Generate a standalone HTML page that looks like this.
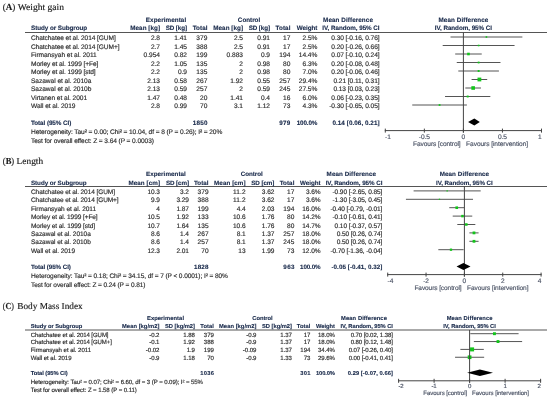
<!DOCTYPE html>
<html><head><meta charset="utf-8"><title>Forest plots</title>
<style>
html,body{margin:0;padding:0;background:#fff;}
svg{display:block;font-family:"Liberation Sans",sans-serif;}
text{white-space:pre;}
</style></head>
<body>
<svg width="550" height="400" viewBox="0 0 550 400" shape-rendering="auto">
<rect width="550" height="400" fill="#fff"/>
<line x1="25.00" y1="32.50" x2="547.00" y2="32.50" stroke="#555" stroke-width="1"/>
<line x1="450.50" y1="37.00" x2="522.36" y2="37.00" stroke="#555" stroke-width="1"/>
<rect x="485.63" y="36.20" width="1.60" height="1.60" fill="#12c51a"/>
<line x1="442.69" y1="45.50" x2="514.55" y2="45.50" stroke="#555" stroke-width="1"/>
<rect x="477.82" y="44.70" width="1.60" height="1.60" fill="#12c51a"/>
<line x1="455.19" y1="54.00" x2="481.74" y2="54.00" stroke="#555" stroke-width="1"/>
<rect x="467.17" y="52.70" width="2.60" height="2.60" fill="#12c51a"/>
<line x1="456.75" y1="62.50" x2="500.49" y2="62.50" stroke="#555" stroke-width="1"/>
<rect x="477.72" y="61.60" width="1.80" height="1.80" fill="#12c51a"/>
<line x1="458.31" y1="71.00" x2="498.93" y2="71.00" stroke="#555" stroke-width="1"/>
<rect x="477.67" y="70.05" width="1.90" height="1.90" fill="#12c51a"/>
<line x1="471.59" y1="79.50" x2="487.21" y2="79.50" stroke="#555" stroke-width="1"/>
<rect x="477.50" y="77.60" width="3.80" height="3.80" fill="#12c51a"/>
<line x1="465.34" y1="88.00" x2="480.96" y2="88.00" stroke="#555" stroke-width="1"/>
<rect x="471.35" y="86.20" width="3.60" height="3.60" fill="#12c51a"/>
<line x1="445.04" y1="96.50" x2="490.33" y2="96.50" stroke="#555" stroke-width="1"/>
<rect x="466.74" y="95.55" width="1.90" height="1.90" fill="#12c51a"/>
<line x1="412.24" y1="105.00" x2="466.90" y2="105.00" stroke="#555" stroke-width="1"/>
<rect x="438.67" y="104.10" width="1.80" height="1.80" fill="#12c51a"/>
<line x1="463.40" y1="32.50" x2="463.40" y2="132.60" stroke="#444" stroke-width="1"/>
<polygon points="468.09,122.10 474.33,118.60 479.80,122.10 474.33,125.60" fill="#000"/>
<line x1="384.80" y1="130.60" x2="542.00" y2="130.60" stroke="#444" stroke-width="1"/>
<line x1="385.30" y1="128.60" x2="385.30" y2="132.60" stroke="#444" stroke-width="1"/>
<line x1="424.35" y1="128.60" x2="424.35" y2="132.60" stroke="#444" stroke-width="1"/>
<line x1="463.40" y1="128.60" x2="463.40" y2="132.60" stroke="#444" stroke-width="1"/>
<line x1="502.45" y1="128.60" x2="502.45" y2="132.60" stroke="#444" stroke-width="1"/>
<line x1="541.50" y1="128.60" x2="541.50" y2="132.60" stroke="#444" stroke-width="1"/>
<line x1="25.00" y1="186.50" x2="547.00" y2="186.50" stroke="#555" stroke-width="1"/>
<line x1="413.60" y1="190.90" x2="480.69" y2="190.90" stroke="#555" stroke-width="1"/>
<rect x="446.52" y="190.28" width="1.25" height="1.25" fill="#12c51a"/>
<line x1="405.93" y1="199.30" x2="473.03" y2="199.30" stroke="#555" stroke-width="1"/>
<rect x="438.86" y="198.68" width="1.25" height="1.25" fill="#12c51a"/>
<line x1="449.26" y1="207.70" x2="464.21" y2="207.70" stroke="#555" stroke-width="1"/>
<rect x="455.42" y="206.39" width="2.63" height="2.63" fill="#12c51a"/>
<line x1="452.71" y1="216.10" x2="472.26" y2="216.10" stroke="#555" stroke-width="1"/>
<rect x="461.24" y="214.86" width="2.48" height="2.48" fill="#12c51a"/>
<line x1="457.31" y1="224.50" x2="475.33" y2="224.50" stroke="#555" stroke-width="1"/>
<rect x="465.06" y="223.24" width="2.52" height="2.52" fill="#12c51a"/>
<line x1="469.38" y1="232.90" x2="478.59" y2="232.90" stroke="#555" stroke-width="1"/>
<rect x="472.59" y="231.51" width="2.79" height="2.79" fill="#12c51a"/>
<line x1="469.38" y1="241.30" x2="478.59" y2="241.30" stroke="#555" stroke-width="1"/>
<rect x="472.59" y="239.91" width="2.79" height="2.79" fill="#12c51a"/>
<line x1="438.33" y1="249.70" x2="463.63" y2="249.70" stroke="#555" stroke-width="1"/>
<rect x="449.84" y="248.56" width="2.28" height="2.28" fill="#12c51a"/>
<line x1="464.40" y1="186.50" x2="464.40" y2="276.60" stroke="#444" stroke-width="1"/>
<polygon points="456.54,266.50 463.44,263.00 470.53,266.50 463.44,270.00" fill="#000"/>
<line x1="387.22" y1="274.60" x2="541.58" y2="274.60" stroke="#444" stroke-width="1"/>
<line x1="387.72" y1="272.60" x2="387.72" y2="276.60" stroke="#444" stroke-width="1"/>
<line x1="426.06" y1="272.60" x2="426.06" y2="276.60" stroke="#444" stroke-width="1"/>
<line x1="464.40" y1="272.60" x2="464.40" y2="276.60" stroke="#444" stroke-width="1"/>
<line x1="502.74" y1="272.60" x2="502.74" y2="276.60" stroke="#444" stroke-width="1"/>
<line x1="541.08" y1="272.60" x2="541.08" y2="276.60" stroke="#444" stroke-width="1"/>
<line x1="25.00" y1="330.00" x2="547.00" y2="330.00" stroke="#555" stroke-width="1"/>
<line x1="470.31" y1="333.70" x2="518.59" y2="333.70" stroke="#555" stroke-width="1"/>
<rect x="493.00" y="332.25" width="2.90" height="2.90" fill="#12c51a"/>
<line x1="473.86" y1="341.55" x2="522.14" y2="341.55" stroke="#555" stroke-width="1"/>
<rect x="496.55" y="340.10" width="2.90" height="2.90" fill="#12c51a"/>
<line x1="460.37" y1="349.40" x2="483.80" y2="349.40" stroke="#555" stroke-width="1"/>
<rect x="470.08" y="347.40" width="4.01" height="4.01" fill="#12c51a"/>
<line x1="455.05" y1="357.25" x2="484.16" y2="357.25" stroke="#555" stroke-width="1"/>
<rect x="467.74" y="355.39" width="3.72" height="3.72" fill="#12c51a"/>
<line x1="469.60" y1="330.00" x2="469.60" y2="382.80" stroke="#444" stroke-width="1"/>
<polygon points="467.12,372.80 479.90,369.50 493.03,372.80 479.90,376.10" fill="#000"/>
<line x1="398.10" y1="380.80" x2="541.10" y2="380.80" stroke="#444" stroke-width="1"/>
<line x1="398.60" y1="378.80" x2="398.60" y2="382.80" stroke="#444" stroke-width="1"/>
<line x1="434.10" y1="378.80" x2="434.10" y2="382.80" stroke="#444" stroke-width="1"/>
<line x1="469.60" y1="378.80" x2="469.60" y2="382.80" stroke="#444" stroke-width="1"/>
<line x1="505.10" y1="378.80" x2="505.10" y2="382.80" stroke="#444" stroke-width="1"/>
<line x1="540.60" y1="378.80" x2="540.60" y2="382.80" stroke="#444" stroke-width="1"/>
<g transform="matrix(1 0 0.001 1 0 0)">
<text x="2.79" y="9.9" font-size="9.2" font-family="'Liberation Serif',serif" fill="#1a1a1a" stroke="#1a1a1a" stroke-width="0.15" lengthAdjust="spacingAndGlyphs" textLength="12.6">(<tspan font-weight="bold">A</tspan>)</text>
<text x="17.69" y="9.9" font-size="9.2" font-family="'Liberation Serif',serif" fill="#1a1a1a" stroke="#1a1a1a" stroke-width="0.15" lengthAdjust="spacingAndGlyphs" textLength="46.3">Weight gain</text>
<text x="165.98" y="21.70" font-size="6.31" fill="#18294a" text-anchor="middle" font-weight="bold" stroke="#18294a" stroke-width="0.12" textLength="40.28">Experimental</text>
<text x="248.98" y="21.70" font-size="6.31" fill="#18294a" text-anchor="middle" font-weight="bold" stroke="#18294a" stroke-width="0.12" textLength="22.26">Control</text>
<text x="347.98" y="21.70" font-size="6.31" fill="#18294a" text-anchor="middle" font-weight="bold" stroke="#18294a" stroke-width="0.12" textLength="49.82">Mean Difference</text>
<text x="463.38" y="21.70" font-size="6.31" fill="#18294a" text-anchor="middle" font-weight="bold" stroke="#18294a" stroke-width="0.12" textLength="49.82">Mean Difference</text>
<text x="30.97" y="30.30" font-size="6.31" fill="#18294a" font-weight="bold" stroke="#18294a" stroke-width="0.12" textLength="56.18">Study or Subgroup</text>
<text x="159.97" y="30.30" font-size="6.31" fill="#18294a" text-anchor="end" font-weight="bold" stroke="#18294a" stroke-width="0.12" textLength="29.68">Mean [kg]</text>
<text x="186.97" y="30.30" font-size="6.31" fill="#18294a" text-anchor="end" font-weight="bold" stroke="#18294a" stroke-width="0.12" textLength="21.20">SD [kg]</text>
<text x="207.47" y="30.30" font-size="6.31" fill="#18294a" text-anchor="end" font-weight="bold" stroke="#18294a" stroke-width="0.12" textLength="14.84">Total</text>
<text x="242.97" y="30.30" font-size="6.31" fill="#18294a" text-anchor="end" font-weight="bold" stroke="#18294a" stroke-width="0.12" textLength="29.68">Mean [kg]</text>
<text x="269.97" y="30.30" font-size="6.31" fill="#18294a" text-anchor="end" font-weight="bold" stroke="#18294a" stroke-width="0.12" textLength="21.20">SD [kg]</text>
<text x="290.37" y="30.30" font-size="6.31" fill="#18294a" text-anchor="end" font-weight="bold" stroke="#18294a" stroke-width="0.12" textLength="14.84">Total</text>
<text x="317.37" y="30.30" font-size="6.31" fill="#18294a" text-anchor="end" font-weight="bold" stroke="#18294a" stroke-width="0.12" textLength="20.67">Weight</text>
<text x="379.57" y="30.30" font-size="6.31" fill="#18294a" text-anchor="end" font-weight="bold" stroke="#18294a" stroke-width="0.12" textLength="57.24">IV, Random, 95% CI</text>
<text x="463.37" y="30.30" font-size="6.31" fill="#18294a" text-anchor="middle" font-weight="bold" stroke="#18294a" stroke-width="0.12" textLength="57.24">IV, Random, 95% CI</text>
<text x="30.96" y="40.30" font-size="6.62" fill="#2a2a2a" stroke="#2a2a2a" stroke-width="0.15" textLength="84.80">Chatchatee et al. 2014 [GUM]</text>
<text x="159.96" y="40.30" font-size="6.62" fill="#2a2a2a" text-anchor="end" stroke="#2a2a2a" stroke-width="0.15" textLength="9.01">2.8</text>
<text x="186.96" y="40.30" font-size="6.62" fill="#2a2a2a" text-anchor="end" stroke="#2a2a2a" stroke-width="0.15" textLength="12.72">1.41</text>
<text x="207.46" y="40.30" font-size="6.62" fill="#2a2a2a" text-anchor="end" stroke="#2a2a2a" stroke-width="0.15" textLength="11.13">379</text>
<text x="242.96" y="40.30" font-size="6.62" fill="#2a2a2a" text-anchor="end" stroke="#2a2a2a" stroke-width="0.15" textLength="9.01">2.5</text>
<text x="269.96" y="40.30" font-size="6.62" fill="#2a2a2a" text-anchor="end" stroke="#2a2a2a" stroke-width="0.15" textLength="12.72">0.91</text>
<text x="290.36" y="40.30" font-size="6.62" fill="#2a2a2a" text-anchor="end" stroke="#2a2a2a" stroke-width="0.15" textLength="7.42">17</text>
<text x="317.36" y="40.30" font-size="6.62" fill="#2a2a2a" text-anchor="end" stroke="#2a2a2a" stroke-width="0.15" textLength="14.84">2.5%</text>
<text x="379.56" y="40.30" font-size="6.62" fill="#2a2a2a" text-anchor="end" stroke="#2a2a2a" stroke-width="0.15" textLength="48.23">0.30 [-0.16, 0.76]</text>
<text x="30.95" y="48.80" font-size="6.62" fill="#2a2a2a" stroke="#2a2a2a" stroke-width="0.15" textLength="88.51">Chatchatee et al. 2014 [GUM+]</text>
<text x="159.95" y="48.80" font-size="6.62" fill="#2a2a2a" text-anchor="end" stroke="#2a2a2a" stroke-width="0.15" textLength="9.01">2.7</text>
<text x="186.95" y="48.80" font-size="6.62" fill="#2a2a2a" text-anchor="end" stroke="#2a2a2a" stroke-width="0.15" textLength="12.72">1.45</text>
<text x="207.45" y="48.80" font-size="6.62" fill="#2a2a2a" text-anchor="end" stroke="#2a2a2a" stroke-width="0.15" textLength="11.13">388</text>
<text x="242.95" y="48.80" font-size="6.62" fill="#2a2a2a" text-anchor="end" stroke="#2a2a2a" stroke-width="0.15" textLength="9.01">2.5</text>
<text x="269.95" y="48.80" font-size="6.62" fill="#2a2a2a" text-anchor="end" stroke="#2a2a2a" stroke-width="0.15" textLength="12.72">0.91</text>
<text x="290.35" y="48.80" font-size="6.62" fill="#2a2a2a" text-anchor="end" stroke="#2a2a2a" stroke-width="0.15" textLength="7.42">17</text>
<text x="317.35" y="48.80" font-size="6.62" fill="#2a2a2a" text-anchor="end" stroke="#2a2a2a" stroke-width="0.15" textLength="14.84">2.5%</text>
<text x="379.55" y="48.80" font-size="6.62" fill="#2a2a2a" text-anchor="end" stroke="#2a2a2a" stroke-width="0.15" textLength="48.23">0.20 [-0.26, 0.66]</text>
<text x="30.94" y="57.30" font-size="6.62" fill="#2a2a2a" stroke="#2a2a2a" stroke-width="0.15" textLength="65.72">Firmansyah et al. 2011</text>
<text x="159.94" y="57.30" font-size="6.62" fill="#2a2a2a" text-anchor="end" stroke="#2a2a2a" stroke-width="0.15" textLength="16.43">0.954</text>
<text x="186.94" y="57.30" font-size="6.62" fill="#2a2a2a" text-anchor="end" stroke="#2a2a2a" stroke-width="0.15" textLength="12.72">0.82</text>
<text x="207.44" y="57.30" font-size="6.62" fill="#2a2a2a" text-anchor="end" stroke="#2a2a2a" stroke-width="0.15" textLength="11.13">199</text>
<text x="242.94" y="57.30" font-size="6.62" fill="#2a2a2a" text-anchor="end" stroke="#2a2a2a" stroke-width="0.15" textLength="16.43">0.883</text>
<text x="269.94" y="57.30" font-size="6.62" fill="#2a2a2a" text-anchor="end" stroke="#2a2a2a" stroke-width="0.15" textLength="9.01">0.9</text>
<text x="290.34" y="57.30" font-size="6.62" fill="#2a2a2a" text-anchor="end" stroke="#2a2a2a" stroke-width="0.15" textLength="11.13">194</text>
<text x="317.34" y="57.30" font-size="6.62" fill="#2a2a2a" text-anchor="end" stroke="#2a2a2a" stroke-width="0.15" textLength="18.55">14.4%</text>
<text x="379.54" y="57.30" font-size="6.62" fill="#2a2a2a" text-anchor="end" stroke="#2a2a2a" stroke-width="0.15" textLength="48.23">0.07 [-0.10, 0.24]</text>
<text x="30.93" y="65.80" font-size="6.62" fill="#2a2a2a" stroke="#2a2a2a" stroke-width="0.15" textLength="67.31">Morley et al. 1999 [+Fe]</text>
<text x="159.93" y="65.80" font-size="6.62" fill="#2a2a2a" text-anchor="end" stroke="#2a2a2a" stroke-width="0.15" textLength="9.01">2.2</text>
<text x="186.93" y="65.80" font-size="6.62" fill="#2a2a2a" text-anchor="end" stroke="#2a2a2a" stroke-width="0.15" textLength="12.72">1.05</text>
<text x="207.43" y="65.80" font-size="6.62" fill="#2a2a2a" text-anchor="end" stroke="#2a2a2a" stroke-width="0.15" textLength="11.13">135</text>
<text x="242.93" y="65.80" font-size="6.62" fill="#2a2a2a" text-anchor="end" stroke="#2a2a2a" stroke-width="0.15">2</text>
<text x="269.93" y="65.80" font-size="6.62" fill="#2a2a2a" text-anchor="end" stroke="#2a2a2a" stroke-width="0.15" textLength="12.72">0.98</text>
<text x="290.33" y="65.80" font-size="6.62" fill="#2a2a2a" text-anchor="end" stroke="#2a2a2a" stroke-width="0.15" textLength="7.42">80</text>
<text x="317.33" y="65.80" font-size="6.62" fill="#2a2a2a" text-anchor="end" stroke="#2a2a2a" stroke-width="0.15" textLength="14.84">6.3%</text>
<text x="379.53" y="65.80" font-size="6.62" fill="#2a2a2a" text-anchor="end" stroke="#2a2a2a" stroke-width="0.15" textLength="48.23">0.20 [-0.08, 0.48]</text>
<text x="30.93" y="74.30" font-size="6.62" fill="#2a2a2a" stroke="#2a2a2a" stroke-width="0.15" textLength="64.66">Morley et al. 1999 [std]</text>
<text x="159.93" y="74.30" font-size="6.62" fill="#2a2a2a" text-anchor="end" stroke="#2a2a2a" stroke-width="0.15" textLength="9.01">2.2</text>
<text x="186.93" y="74.30" font-size="6.62" fill="#2a2a2a" text-anchor="end" stroke="#2a2a2a" stroke-width="0.15" textLength="9.01">0.9</text>
<text x="207.43" y="74.30" font-size="6.62" fill="#2a2a2a" text-anchor="end" stroke="#2a2a2a" stroke-width="0.15" textLength="11.13">135</text>
<text x="242.93" y="74.30" font-size="6.62" fill="#2a2a2a" text-anchor="end" stroke="#2a2a2a" stroke-width="0.15">2</text>
<text x="269.93" y="74.30" font-size="6.62" fill="#2a2a2a" text-anchor="end" stroke="#2a2a2a" stroke-width="0.15" textLength="12.72">0.98</text>
<text x="290.33" y="74.30" font-size="6.62" fill="#2a2a2a" text-anchor="end" stroke="#2a2a2a" stroke-width="0.15" textLength="7.42">80</text>
<text x="317.33" y="74.30" font-size="6.62" fill="#2a2a2a" text-anchor="end" stroke="#2a2a2a" stroke-width="0.15" textLength="14.84">7.0%</text>
<text x="379.53" y="74.30" font-size="6.62" fill="#2a2a2a" text-anchor="end" stroke="#2a2a2a" stroke-width="0.15" textLength="48.23">0.20 [-0.06, 0.46]</text>
<text x="30.92" y="82.80" font-size="6.62" fill="#2a2a2a" stroke="#2a2a2a" stroke-width="0.15" textLength="60.42">Sazawal et al. 2010a</text>
<text x="159.92" y="82.80" font-size="6.62" fill="#2a2a2a" text-anchor="end" stroke="#2a2a2a" stroke-width="0.15" textLength="12.72">2.13</text>
<text x="186.92" y="82.80" font-size="6.62" fill="#2a2a2a" text-anchor="end" stroke="#2a2a2a" stroke-width="0.15" textLength="12.72">0.58</text>
<text x="207.42" y="82.80" font-size="6.62" fill="#2a2a2a" text-anchor="end" stroke="#2a2a2a" stroke-width="0.15" textLength="11.13">267</text>
<text x="242.92" y="82.80" font-size="6.62" fill="#2a2a2a" text-anchor="end" stroke="#2a2a2a" stroke-width="0.15" textLength="12.72">1.92</text>
<text x="269.92" y="82.80" font-size="6.62" fill="#2a2a2a" text-anchor="end" stroke="#2a2a2a" stroke-width="0.15" textLength="12.72">0.55</text>
<text x="290.32" y="82.80" font-size="6.62" fill="#2a2a2a" text-anchor="end" stroke="#2a2a2a" stroke-width="0.15" textLength="11.13">257</text>
<text x="317.32" y="82.80" font-size="6.62" fill="#2a2a2a" text-anchor="end" stroke="#2a2a2a" stroke-width="0.15" textLength="18.55">29.4%</text>
<text x="379.52" y="82.80" font-size="6.62" fill="#2a2a2a" text-anchor="end" stroke="#2a2a2a" stroke-width="0.15" textLength="46.11">0.21 [0.11, 0.31]</text>
<text x="30.91" y="91.30" font-size="6.62" fill="#2a2a2a" stroke="#2a2a2a" stroke-width="0.15" textLength="60.42">Sazawal et al. 2010b</text>
<text x="159.91" y="91.30" font-size="6.62" fill="#2a2a2a" text-anchor="end" stroke="#2a2a2a" stroke-width="0.15" textLength="12.72">2.13</text>
<text x="186.91" y="91.30" font-size="6.62" fill="#2a2a2a" text-anchor="end" stroke="#2a2a2a" stroke-width="0.15" textLength="12.72">0.59</text>
<text x="207.41" y="91.30" font-size="6.62" fill="#2a2a2a" text-anchor="end" stroke="#2a2a2a" stroke-width="0.15" textLength="11.13">257</text>
<text x="242.91" y="91.30" font-size="6.62" fill="#2a2a2a" text-anchor="end" stroke="#2a2a2a" stroke-width="0.15">2</text>
<text x="269.91" y="91.30" font-size="6.62" fill="#2a2a2a" text-anchor="end" stroke="#2a2a2a" stroke-width="0.15" textLength="12.72">0.59</text>
<text x="290.31" y="91.30" font-size="6.62" fill="#2a2a2a" text-anchor="end" stroke="#2a2a2a" stroke-width="0.15" textLength="11.13">245</text>
<text x="317.31" y="91.30" font-size="6.62" fill="#2a2a2a" text-anchor="end" stroke="#2a2a2a" stroke-width="0.15" textLength="18.55">27.5%</text>
<text x="379.51" y="91.30" font-size="6.62" fill="#2a2a2a" text-anchor="end" stroke="#2a2a2a" stroke-width="0.15" textLength="46.11">0.13 [0.03, 0.23]</text>
<text x="30.90" y="99.80" font-size="6.62" fill="#2a2a2a" stroke="#2a2a2a" stroke-width="0.15" textLength="56.18">Virtanen et al. 2001</text>
<text x="159.90" y="99.80" font-size="6.62" fill="#2a2a2a" text-anchor="end" stroke="#2a2a2a" stroke-width="0.15" textLength="12.72">1.47</text>
<text x="186.90" y="99.80" font-size="6.62" fill="#2a2a2a" text-anchor="end" stroke="#2a2a2a" stroke-width="0.15" textLength="12.72">0.48</text>
<text x="207.40" y="99.80" font-size="6.62" fill="#2a2a2a" text-anchor="end" stroke="#2a2a2a" stroke-width="0.15" textLength="7.42">20</text>
<text x="242.90" y="99.80" font-size="6.62" fill="#2a2a2a" text-anchor="end" stroke="#2a2a2a" stroke-width="0.15" textLength="12.72">1.41</text>
<text x="269.90" y="99.80" font-size="6.62" fill="#2a2a2a" text-anchor="end" stroke="#2a2a2a" stroke-width="0.15" textLength="9.01">0.4</text>
<text x="290.30" y="99.80" font-size="6.62" fill="#2a2a2a" text-anchor="end" stroke="#2a2a2a" stroke-width="0.15" textLength="7.42">16</text>
<text x="317.30" y="99.80" font-size="6.62" fill="#2a2a2a" text-anchor="end" stroke="#2a2a2a" stroke-width="0.15" textLength="14.84">6.0%</text>
<text x="379.50" y="99.80" font-size="6.62" fill="#2a2a2a" text-anchor="end" stroke="#2a2a2a" stroke-width="0.15" textLength="48.23">0.06 [-0.23, 0.35]</text>
<text x="30.89" y="108.30" font-size="6.62" fill="#2a2a2a" stroke="#2a2a2a" stroke-width="0.15" textLength="44.52">Wall et al. 2019</text>
<text x="159.89" y="108.30" font-size="6.62" fill="#2a2a2a" text-anchor="end" stroke="#2a2a2a" stroke-width="0.15" textLength="9.01">2.8</text>
<text x="186.89" y="108.30" font-size="6.62" fill="#2a2a2a" text-anchor="end" stroke="#2a2a2a" stroke-width="0.15" textLength="12.72">0.99</text>
<text x="207.39" y="108.30" font-size="6.62" fill="#2a2a2a" text-anchor="end" stroke="#2a2a2a" stroke-width="0.15" textLength="7.42">70</text>
<text x="242.89" y="108.30" font-size="6.62" fill="#2a2a2a" text-anchor="end" stroke="#2a2a2a" stroke-width="0.15" textLength="9.01">3.1</text>
<text x="269.89" y="108.30" font-size="6.62" fill="#2a2a2a" text-anchor="end" stroke="#2a2a2a" stroke-width="0.15" textLength="12.72">1.12</text>
<text x="290.29" y="108.30" font-size="6.62" fill="#2a2a2a" text-anchor="end" stroke="#2a2a2a" stroke-width="0.15" textLength="7.42">73</text>
<text x="317.29" y="108.30" font-size="6.62" fill="#2a2a2a" text-anchor="end" stroke="#2a2a2a" stroke-width="0.15" textLength="14.84">4.3%</text>
<text x="379.49" y="108.30" font-size="6.62" fill="#2a2a2a" text-anchor="end" stroke="#2a2a2a" stroke-width="0.15" textLength="50.35">-0.30 [-0.65, 0.05]</text>
<text x="30.88" y="124.80" font-size="6.31" fill="#18294a" font-weight="bold" stroke="#18294a" stroke-width="0.12" textLength="40.28">Total (95% CI)</text>
<text x="207.38" y="124.80" font-size="6.31" fill="#18294a" text-anchor="end" font-weight="bold" stroke="#18294a" stroke-width="0.12" textLength="14.84">1850</text>
<text x="290.28" y="124.80" font-size="6.31" fill="#18294a" text-anchor="end" font-weight="bold" stroke="#18294a" stroke-width="0.12" textLength="11.13">979</text>
<text x="317.28" y="124.80" font-size="6.31" fill="#18294a" text-anchor="end" font-weight="bold" stroke="#18294a" stroke-width="0.12" textLength="20.67">100.0%</text>
<text x="379.48" y="124.80" font-size="6.31" fill="#18294a" text-anchor="end" font-weight="bold" stroke="#18294a" stroke-width="0.12" textLength="47.17">0.14 [0.06, 0.21]</text>
<text x="30.87" y="133.90" font-size="6.62" fill="#2a2a2a" stroke="#2a2a2a" stroke-width="0.15" textLength="191.33">Heterogeneity: Tau² = 0.00; Chi² = 10.04, df = 8 (P = 0.26); I² = 20%</text>
<text x="30.86" y="142.90" font-size="6.62" fill="#2a2a2a" stroke="#2a2a2a" stroke-width="0.15" textLength="122.96">Test for overall effect: Z = 3.64 (P = 0.0003)</text>
<text x="384.96" y="138.70" font-size="6.62" fill="#4a5264" stroke="#4a5264" stroke-width="0.15" textLength="5.83">-1</text>
<text x="424.21" y="138.70" font-size="6.62" fill="#4a5264" text-anchor="middle" stroke="#4a5264" stroke-width="0.15" textLength="11.13">-0.5</text>
<text x="463.26" y="138.70" font-size="6.62" fill="#4a5264" text-anchor="middle" stroke="#4a5264" stroke-width="0.15">0</text>
<text x="502.31" y="138.70" font-size="6.62" fill="#4a5264" text-anchor="middle" stroke="#4a5264" stroke-width="0.15" textLength="9.01">0.5</text>
<text x="541.56" y="138.70" font-size="6.62" fill="#4a5264" text-anchor="end" stroke="#4a5264" stroke-width="0.15">1</text>
<text x="460.55" y="146.00" font-size="6.62" fill="#4a5264" text-anchor="end" stroke="#4a5264" stroke-width="0.15" textLength="47.70">Favours [control]</text>
<text x="465.95" y="146.00" font-size="6.62" fill="#4a5264" stroke="#4a5264" stroke-width="0.15" textLength="62.01">Favours [intervention]</text>
<text x="2.64" y="163.9" font-size="9.2" font-family="'Liberation Serif',serif" fill="#1a1a1a" stroke="#1a1a1a" stroke-width="0.15" lengthAdjust="spacingAndGlyphs" textLength="11.4">(<tspan font-weight="bold">B</tspan>)</text>
<text x="16.44" y="163.9" font-size="9.2" font-family="'Liberation Serif',serif" fill="#1a1a1a" stroke="#1a1a1a" stroke-width="0.15" lengthAdjust="spacingAndGlyphs" textLength="26.5">Length</text>
<text x="165.72" y="176.40" font-size="6.25" fill="#18294a" text-anchor="middle" font-weight="bold" stroke="#18294a" stroke-width="0.12" textLength="39.90">Experimental</text>
<text x="251.52" y="176.40" font-size="6.25" fill="#18294a" text-anchor="middle" font-weight="bold" stroke="#18294a" stroke-width="0.12" textLength="22.05">Control</text>
<text x="351.12" y="176.40" font-size="6.25" fill="#18294a" text-anchor="middle" font-weight="bold" stroke="#18294a" stroke-width="0.12" textLength="49.35">Mean Difference</text>
<text x="464.22" y="176.40" font-size="6.25" fill="#18294a" text-anchor="middle" font-weight="bold" stroke="#18294a" stroke-width="0.12" textLength="49.35">Mean Difference</text>
<text x="30.82" y="184.80" font-size="6.25" fill="#18294a" font-weight="bold" stroke="#18294a" stroke-width="0.12" textLength="55.65">Study or Subgroup</text>
<text x="159.82" y="184.80" font-size="6.25" fill="#18294a" text-anchor="end" font-weight="bold" stroke="#18294a" stroke-width="0.12" textLength="31.50">Mean [cm]</text>
<text x="188.82" y="184.80" font-size="6.25" fill="#18294a" text-anchor="end" font-weight="bold" stroke="#18294a" stroke-width="0.12" textLength="23.10">SD [cm]</text>
<text x="208.42" y="184.80" font-size="6.25" fill="#18294a" text-anchor="end" font-weight="bold" stroke="#18294a" stroke-width="0.12" textLength="14.70">Total</text>
<text x="245.42" y="184.80" font-size="6.25" fill="#18294a" text-anchor="end" font-weight="bold" stroke="#18294a" stroke-width="0.12" textLength="31.50">Mean [cm]</text>
<text x="274.22" y="184.80" font-size="6.25" fill="#18294a" text-anchor="end" font-weight="bold" stroke="#18294a" stroke-width="0.12" textLength="23.10">SD [cm]</text>
<text x="294.22" y="184.80" font-size="6.25" fill="#18294a" text-anchor="end" font-weight="bold" stroke="#18294a" stroke-width="0.12" textLength="14.70">Total</text>
<text x="320.42" y="184.80" font-size="6.25" fill="#18294a" text-anchor="end" font-weight="bold" stroke="#18294a" stroke-width="0.12" textLength="20.48">Weight</text>
<text x="382.22" y="184.80" font-size="6.25" fill="#18294a" text-anchor="end" font-weight="bold" stroke="#18294a" stroke-width="0.12" textLength="56.70">IV, Random, 95% CI</text>
<text x="464.22" y="184.80" font-size="6.25" fill="#18294a" text-anchor="middle" font-weight="bold" stroke="#18294a" stroke-width="0.12" textLength="56.70">IV, Random, 95% CI</text>
<text x="30.81" y="194.00" font-size="6.56" fill="#2a2a2a" stroke="#2a2a2a" stroke-width="0.15" textLength="84.00">Chatchatee et al. 2014 [GUM]</text>
<text x="159.81" y="194.00" font-size="6.56" fill="#2a2a2a" text-anchor="end" stroke="#2a2a2a" stroke-width="0.15" textLength="12.60">10.3</text>
<text x="188.81" y="194.00" font-size="6.56" fill="#2a2a2a" text-anchor="end" stroke="#2a2a2a" stroke-width="0.15" textLength="8.93">3.2</text>
<text x="208.41" y="194.00" font-size="6.56" fill="#2a2a2a" text-anchor="end" stroke="#2a2a2a" stroke-width="0.15" textLength="11.03">379</text>
<text x="245.41" y="194.00" font-size="6.56" fill="#2a2a2a" text-anchor="end" stroke="#2a2a2a" stroke-width="0.15" textLength="12.60">11.2</text>
<text x="274.21" y="194.00" font-size="6.56" fill="#2a2a2a" text-anchor="end" stroke="#2a2a2a" stroke-width="0.15" textLength="12.60">3.62</text>
<text x="294.21" y="194.00" font-size="6.56" fill="#2a2a2a" text-anchor="end" stroke="#2a2a2a" stroke-width="0.15" textLength="7.35">17</text>
<text x="320.41" y="194.00" font-size="6.56" fill="#2a2a2a" text-anchor="end" stroke="#2a2a2a" stroke-width="0.15" textLength="14.70">3.6%</text>
<text x="382.21" y="194.00" font-size="6.56" fill="#2a2a2a" text-anchor="end" stroke="#2a2a2a" stroke-width="0.15" textLength="49.88">-0.90 [-2.65, 0.85]</text>
<text x="30.80" y="202.40" font-size="6.56" fill="#2a2a2a" stroke="#2a2a2a" stroke-width="0.15" textLength="87.67">Chatchatee et al. 2014 [GUM+]</text>
<text x="159.80" y="202.40" font-size="6.56" fill="#2a2a2a" text-anchor="end" stroke="#2a2a2a" stroke-width="0.15" textLength="8.93">9.9</text>
<text x="188.80" y="202.40" font-size="6.56" fill="#2a2a2a" text-anchor="end" stroke="#2a2a2a" stroke-width="0.15" textLength="12.60">3.29</text>
<text x="208.40" y="202.40" font-size="6.56" fill="#2a2a2a" text-anchor="end" stroke="#2a2a2a" stroke-width="0.15" textLength="11.03">388</text>
<text x="245.40" y="202.40" font-size="6.56" fill="#2a2a2a" text-anchor="end" stroke="#2a2a2a" stroke-width="0.15" textLength="12.60">11.2</text>
<text x="274.20" y="202.40" font-size="6.56" fill="#2a2a2a" text-anchor="end" stroke="#2a2a2a" stroke-width="0.15" textLength="12.60">3.62</text>
<text x="294.20" y="202.40" font-size="6.56" fill="#2a2a2a" text-anchor="end" stroke="#2a2a2a" stroke-width="0.15" textLength="7.35">17</text>
<text x="320.40" y="202.40" font-size="6.56" fill="#2a2a2a" text-anchor="end" stroke="#2a2a2a" stroke-width="0.15" textLength="14.70">3.6%</text>
<text x="382.20" y="202.40" font-size="6.56" fill="#2a2a2a" text-anchor="end" stroke="#2a2a2a" stroke-width="0.15" textLength="49.88">-1.30 [-3.05, 0.45]</text>
<text x="30.79" y="210.80" font-size="6.56" fill="#2a2a2a" stroke="#2a2a2a" stroke-width="0.15" textLength="65.10">Firmansyah et al. 2011</text>
<text x="159.79" y="210.80" font-size="6.56" fill="#2a2a2a" text-anchor="end" stroke="#2a2a2a" stroke-width="0.15">4</text>
<text x="188.79" y="210.80" font-size="6.56" fill="#2a2a2a" text-anchor="end" stroke="#2a2a2a" stroke-width="0.15" textLength="12.60">1.87</text>
<text x="208.39" y="210.80" font-size="6.56" fill="#2a2a2a" text-anchor="end" stroke="#2a2a2a" stroke-width="0.15" textLength="11.03">199</text>
<text x="245.39" y="210.80" font-size="6.56" fill="#2a2a2a" text-anchor="end" stroke="#2a2a2a" stroke-width="0.15" textLength="8.93">4.4</text>
<text x="274.19" y="210.80" font-size="6.56" fill="#2a2a2a" text-anchor="end" stroke="#2a2a2a" stroke-width="0.15" textLength="12.60">2.03</text>
<text x="294.19" y="210.80" font-size="6.56" fill="#2a2a2a" text-anchor="end" stroke="#2a2a2a" stroke-width="0.15" textLength="11.03">194</text>
<text x="320.39" y="210.80" font-size="6.56" fill="#2a2a2a" text-anchor="end" stroke="#2a2a2a" stroke-width="0.15" textLength="18.38">16.0%</text>
<text x="382.19" y="210.80" font-size="6.56" fill="#2a2a2a" text-anchor="end" stroke="#2a2a2a" stroke-width="0.15" textLength="51.98">-0.40 [-0.79, -0.01]</text>
<text x="30.78" y="219.20" font-size="6.56" fill="#2a2a2a" stroke="#2a2a2a" stroke-width="0.15" textLength="66.67">Morley et al. 1999 [+Fe]</text>
<text x="159.78" y="219.20" font-size="6.56" fill="#2a2a2a" text-anchor="end" stroke="#2a2a2a" stroke-width="0.15" textLength="12.60">10.5</text>
<text x="188.78" y="219.20" font-size="6.56" fill="#2a2a2a" text-anchor="end" stroke="#2a2a2a" stroke-width="0.15" textLength="12.60">1.92</text>
<text x="208.38" y="219.20" font-size="6.56" fill="#2a2a2a" text-anchor="end" stroke="#2a2a2a" stroke-width="0.15" textLength="11.03">133</text>
<text x="245.38" y="219.20" font-size="6.56" fill="#2a2a2a" text-anchor="end" stroke="#2a2a2a" stroke-width="0.15" textLength="12.60">10.6</text>
<text x="274.18" y="219.20" font-size="6.56" fill="#2a2a2a" text-anchor="end" stroke="#2a2a2a" stroke-width="0.15" textLength="12.60">1.76</text>
<text x="294.18" y="219.20" font-size="6.56" fill="#2a2a2a" text-anchor="end" stroke="#2a2a2a" stroke-width="0.15" textLength="7.35">80</text>
<text x="320.38" y="219.20" font-size="6.56" fill="#2a2a2a" text-anchor="end" stroke="#2a2a2a" stroke-width="0.15" textLength="18.38">14.2%</text>
<text x="382.18" y="219.20" font-size="6.56" fill="#2a2a2a" text-anchor="end" stroke="#2a2a2a" stroke-width="0.15" textLength="49.88">-0.10 [-0.61, 0.41]</text>
<text x="30.77" y="227.60" font-size="6.56" fill="#2a2a2a" stroke="#2a2a2a" stroke-width="0.15" textLength="64.05">Morley et al. 1999 [std]</text>
<text x="159.77" y="227.60" font-size="6.56" fill="#2a2a2a" text-anchor="end" stroke="#2a2a2a" stroke-width="0.15" textLength="12.60">10.7</text>
<text x="188.77" y="227.60" font-size="6.56" fill="#2a2a2a" text-anchor="end" stroke="#2a2a2a" stroke-width="0.15" textLength="12.60">1.64</text>
<text x="208.37" y="227.60" font-size="6.56" fill="#2a2a2a" text-anchor="end" stroke="#2a2a2a" stroke-width="0.15" textLength="11.03">135</text>
<text x="245.37" y="227.60" font-size="6.56" fill="#2a2a2a" text-anchor="end" stroke="#2a2a2a" stroke-width="0.15" textLength="12.60">10.6</text>
<text x="274.17" y="227.60" font-size="6.56" fill="#2a2a2a" text-anchor="end" stroke="#2a2a2a" stroke-width="0.15" textLength="12.60">1.76</text>
<text x="294.17" y="227.60" font-size="6.56" fill="#2a2a2a" text-anchor="end" stroke="#2a2a2a" stroke-width="0.15" textLength="7.35">80</text>
<text x="320.37" y="227.60" font-size="6.56" fill="#2a2a2a" text-anchor="end" stroke="#2a2a2a" stroke-width="0.15" textLength="18.38">14.7%</text>
<text x="382.17" y="227.60" font-size="6.56" fill="#2a2a2a" text-anchor="end" stroke="#2a2a2a" stroke-width="0.15" textLength="47.77">0.10 [-0.37, 0.57]</text>
<text x="30.76" y="236.00" font-size="6.56" fill="#2a2a2a" stroke="#2a2a2a" stroke-width="0.15" textLength="59.85">Sazawal et al. 2010a</text>
<text x="159.76" y="236.00" font-size="6.56" fill="#2a2a2a" text-anchor="end" stroke="#2a2a2a" stroke-width="0.15" textLength="8.93">8.6</text>
<text x="188.76" y="236.00" font-size="6.56" fill="#2a2a2a" text-anchor="end" stroke="#2a2a2a" stroke-width="0.15" textLength="8.93">1.4</text>
<text x="208.36" y="236.00" font-size="6.56" fill="#2a2a2a" text-anchor="end" stroke="#2a2a2a" stroke-width="0.15" textLength="11.03">267</text>
<text x="245.36" y="236.00" font-size="6.56" fill="#2a2a2a" text-anchor="end" stroke="#2a2a2a" stroke-width="0.15" textLength="8.93">8.1</text>
<text x="274.16" y="236.00" font-size="6.56" fill="#2a2a2a" text-anchor="end" stroke="#2a2a2a" stroke-width="0.15" textLength="12.60">1.37</text>
<text x="294.16" y="236.00" font-size="6.56" fill="#2a2a2a" text-anchor="end" stroke="#2a2a2a" stroke-width="0.15" textLength="11.03">257</text>
<text x="320.36" y="236.00" font-size="6.56" fill="#2a2a2a" text-anchor="end" stroke="#2a2a2a" stroke-width="0.15" textLength="18.38">18.0%</text>
<text x="382.16" y="236.00" font-size="6.56" fill="#2a2a2a" text-anchor="end" stroke="#2a2a2a" stroke-width="0.15" textLength="45.68">0.50 [0.26, 0.74]</text>
<text x="30.76" y="244.40" font-size="6.56" fill="#2a2a2a" stroke="#2a2a2a" stroke-width="0.15" textLength="59.85">Sazawal et al. 2010b</text>
<text x="159.76" y="244.40" font-size="6.56" fill="#2a2a2a" text-anchor="end" stroke="#2a2a2a" stroke-width="0.15" textLength="8.93">8.6</text>
<text x="188.76" y="244.40" font-size="6.56" fill="#2a2a2a" text-anchor="end" stroke="#2a2a2a" stroke-width="0.15" textLength="8.93">1.4</text>
<text x="208.36" y="244.40" font-size="6.56" fill="#2a2a2a" text-anchor="end" stroke="#2a2a2a" stroke-width="0.15" textLength="11.03">257</text>
<text x="245.36" y="244.40" font-size="6.56" fill="#2a2a2a" text-anchor="end" stroke="#2a2a2a" stroke-width="0.15" textLength="8.93">8.1</text>
<text x="274.16" y="244.40" font-size="6.56" fill="#2a2a2a" text-anchor="end" stroke="#2a2a2a" stroke-width="0.15" textLength="12.60">1.37</text>
<text x="294.16" y="244.40" font-size="6.56" fill="#2a2a2a" text-anchor="end" stroke="#2a2a2a" stroke-width="0.15" textLength="11.03">245</text>
<text x="320.36" y="244.40" font-size="6.56" fill="#2a2a2a" text-anchor="end" stroke="#2a2a2a" stroke-width="0.15" textLength="18.38">18.0%</text>
<text x="382.16" y="244.40" font-size="6.56" fill="#2a2a2a" text-anchor="end" stroke="#2a2a2a" stroke-width="0.15" textLength="45.68">0.50 [0.26, 0.74]</text>
<text x="30.75" y="252.80" font-size="6.56" fill="#2a2a2a" stroke="#2a2a2a" stroke-width="0.15" textLength="44.10">Wall et al. 2019</text>
<text x="159.75" y="252.80" font-size="6.56" fill="#2a2a2a" text-anchor="end" stroke="#2a2a2a" stroke-width="0.15" textLength="12.60">12.3</text>
<text x="188.75" y="252.80" font-size="6.56" fill="#2a2a2a" text-anchor="end" stroke="#2a2a2a" stroke-width="0.15" textLength="12.60">2.01</text>
<text x="208.35" y="252.80" font-size="6.56" fill="#2a2a2a" text-anchor="end" stroke="#2a2a2a" stroke-width="0.15" textLength="7.35">70</text>
<text x="245.35" y="252.80" font-size="6.56" fill="#2a2a2a" text-anchor="end" stroke="#2a2a2a" stroke-width="0.15" textLength="7.35">13</text>
<text x="274.15" y="252.80" font-size="6.56" fill="#2a2a2a" text-anchor="end" stroke="#2a2a2a" stroke-width="0.15" textLength="12.60">1.99</text>
<text x="294.15" y="252.80" font-size="6.56" fill="#2a2a2a" text-anchor="end" stroke="#2a2a2a" stroke-width="0.15" textLength="7.35">73</text>
<text x="320.35" y="252.80" font-size="6.56" fill="#2a2a2a" text-anchor="end" stroke="#2a2a2a" stroke-width="0.15" textLength="18.38">12.0%</text>
<text x="382.15" y="252.80" font-size="6.56" fill="#2a2a2a" text-anchor="end" stroke="#2a2a2a" stroke-width="0.15" textLength="51.98">-0.70 [-1.36, -0.04]</text>
<text x="30.73" y="269.10" font-size="6.25" fill="#18294a" font-weight="bold" stroke="#18294a" stroke-width="0.12" textLength="39.90">Total (95% CI)</text>
<text x="208.33" y="269.10" font-size="6.25" fill="#18294a" text-anchor="end" font-weight="bold" stroke="#18294a" stroke-width="0.12" textLength="14.70">1828</text>
<text x="294.13" y="269.10" font-size="6.25" fill="#18294a" text-anchor="end" font-weight="bold" stroke="#18294a" stroke-width="0.12" textLength="11.03">963</text>
<text x="320.33" y="269.10" font-size="6.25" fill="#18294a" text-anchor="end" font-weight="bold" stroke="#18294a" stroke-width="0.12" textLength="20.48">100.0%</text>
<text x="382.13" y="269.10" font-size="6.25" fill="#18294a" text-anchor="end" font-weight="bold" stroke="#18294a" stroke-width="0.12" textLength="50.93">-0.05 [-0.41, 0.32]</text>
<text x="30.72" y="278.40" font-size="6.56" fill="#2a2a2a" stroke="#2a2a2a" stroke-width="0.15" textLength="196.88">Heterogeneity: Tau² = 0.18; Chi² = 34.15, df = 7 (P &lt; 0.0001); I² = 80%</text>
<text x="30.71" y="286.80" font-size="6.56" fill="#2a2a2a" stroke="#2a2a2a" stroke-width="0.15" textLength="114.45">Test for overall effect: Z = 0.24 (P = 0.81)</text>
<text x="387.24" y="282.70" font-size="6.56" fill="#4a5264" stroke="#4a5264" stroke-width="0.15" textLength="5.78">-4</text>
<text x="425.78" y="282.70" font-size="6.56" fill="#4a5264" text-anchor="middle" stroke="#4a5264" stroke-width="0.15" textLength="5.78">-2</text>
<text x="464.12" y="282.70" font-size="6.56" fill="#4a5264" text-anchor="middle" stroke="#4a5264" stroke-width="0.15">0</text>
<text x="502.46" y="282.70" font-size="6.56" fill="#4a5264" text-anchor="middle" stroke="#4a5264" stroke-width="0.15">2</text>
<text x="541.00" y="282.70" font-size="6.56" fill="#4a5264" text-anchor="end" stroke="#4a5264" stroke-width="0.15">4</text>
<text x="461.41" y="289.90" font-size="6.56" fill="#4a5264" text-anchor="end" stroke="#4a5264" stroke-width="0.15" textLength="47.25">Favours [control]</text>
<text x="466.81" y="289.90" font-size="6.56" fill="#4a5264" stroke="#4a5264" stroke-width="0.15" textLength="61.43">Favours [intervention]</text>
<text x="2.49" y="308.6" font-size="9.2" font-family="'Liberation Serif',serif" fill="#1a1a1a" stroke="#1a1a1a" stroke-width="0.15" lengthAdjust="spacingAndGlyphs" textLength="11.1">(<tspan font-weight="bold">C</tspan>)</text>
<text x="16.99" y="308.6" font-size="9.2" font-family="'Liberation Serif',serif" fill="#1a1a1a" stroke="#1a1a1a" stroke-width="0.15" lengthAdjust="spacingAndGlyphs" textLength="65.4">Body Mass Index</text>
<text x="165.18" y="320.00" font-size="5.79" fill="#18294a" text-anchor="middle" font-weight="bold" stroke="#18294a" stroke-width="0.12" textLength="36.99">Experimental</text>
<text x="262.18" y="320.00" font-size="5.79" fill="#18294a" text-anchor="middle" font-weight="bold" stroke="#18294a" stroke-width="0.12" textLength="20.44">Control</text>
<text x="363.68" y="320.00" font-size="5.79" fill="#18294a" text-anchor="middle" font-weight="bold" stroke="#18294a" stroke-width="0.12" textLength="45.75">Mean Difference</text>
<text x="469.28" y="320.00" font-size="5.79" fill="#18294a" text-anchor="middle" font-weight="bold" stroke="#18294a" stroke-width="0.12" textLength="45.75">Mean Difference</text>
<text x="30.37" y="327.70" font-size="5.79" fill="#18294a" font-weight="bold" stroke="#18294a" stroke-width="0.12" textLength="51.59">Study or Subgroup</text>
<text x="159.17" y="327.70" font-size="5.79" fill="#18294a" text-anchor="end" font-weight="bold" stroke="#18294a" stroke-width="0.12" textLength="37.48">Mean [kg/m2]</text>
<text x="194.67" y="327.70" font-size="5.79" fill="#18294a" text-anchor="end" font-weight="bold" stroke="#18294a" stroke-width="0.12" textLength="29.93">SD [kg/m2]</text>
<text x="213.67" y="327.70" font-size="5.79" fill="#18294a" text-anchor="end" font-weight="bold" stroke="#18294a" stroke-width="0.12" textLength="13.63">Total</text>
<text x="256.17" y="327.70" font-size="5.79" fill="#18294a" text-anchor="end" font-weight="bold" stroke="#18294a" stroke-width="0.12" textLength="37.48">Mean [kg/m2]</text>
<text x="291.67" y="327.70" font-size="5.79" fill="#18294a" text-anchor="end" font-weight="bold" stroke="#18294a" stroke-width="0.12" textLength="29.93">SD [kg/m2]</text>
<text x="310.17" y="327.70" font-size="5.79" fill="#18294a" text-anchor="end" font-weight="bold" stroke="#18294a" stroke-width="0.12" textLength="13.63">Total</text>
<text x="334.67" y="327.70" font-size="5.79" fill="#18294a" text-anchor="end" font-weight="bold" stroke="#18294a" stroke-width="0.12" textLength="18.98">Weight</text>
<text x="392.67" y="327.70" font-size="5.79" fill="#18294a" text-anchor="end" font-weight="bold" stroke="#18294a" stroke-width="0.12" textLength="52.56">IV, Random, 95% CI</text>
<text x="469.27" y="327.70" font-size="5.79" fill="#18294a" text-anchor="middle" font-weight="bold" stroke="#18294a" stroke-width="0.12" textLength="52.56">IV, Random, 95% CI</text>
<text x="30.36" y="336.60" font-size="6.08" fill="#2a2a2a" stroke="#2a2a2a" stroke-width="0.15" textLength="77.87">Chatchatee et al. 2014 [GUM]</text>
<text x="159.16" y="336.60" font-size="6.08" fill="#2a2a2a" text-anchor="end" stroke="#2a2a2a" stroke-width="0.15" textLength="10.22">-0.2</text>
<text x="194.66" y="336.60" font-size="6.08" fill="#2a2a2a" text-anchor="end" stroke="#2a2a2a" stroke-width="0.15" textLength="11.68">1.88</text>
<text x="213.66" y="336.60" font-size="6.08" fill="#2a2a2a" text-anchor="end" stroke="#2a2a2a" stroke-width="0.15" textLength="10.22">379</text>
<text x="256.16" y="336.60" font-size="6.08" fill="#2a2a2a" text-anchor="end" stroke="#2a2a2a" stroke-width="0.15" textLength="10.22">-0.9</text>
<text x="291.66" y="336.60" font-size="6.08" fill="#2a2a2a" text-anchor="end" stroke="#2a2a2a" stroke-width="0.15" textLength="11.68">1.37</text>
<text x="310.16" y="336.60" font-size="6.08" fill="#2a2a2a" text-anchor="end" stroke="#2a2a2a" stroke-width="0.15" textLength="6.81">17</text>
<text x="334.66" y="336.60" font-size="6.08" fill="#2a2a2a" text-anchor="end" stroke="#2a2a2a" stroke-width="0.15" textLength="17.03">18.0%</text>
<text x="392.66" y="336.60" font-size="6.08" fill="#2a2a2a" text-anchor="end" stroke="#2a2a2a" stroke-width="0.15" textLength="42.34">0.70 [0.02, 1.38]</text>
<text x="30.36" y="344.45" font-size="6.08" fill="#2a2a2a" stroke="#2a2a2a" stroke-width="0.15" textLength="81.28">Chatchatee et al. 2014 [GUM+]</text>
<text x="159.16" y="344.45" font-size="6.08" fill="#2a2a2a" text-anchor="end" stroke="#2a2a2a" stroke-width="0.15" textLength="10.22">-0.1</text>
<text x="194.66" y="344.45" font-size="6.08" fill="#2a2a2a" text-anchor="end" stroke="#2a2a2a" stroke-width="0.15" textLength="11.68">1.92</text>
<text x="213.66" y="344.45" font-size="6.08" fill="#2a2a2a" text-anchor="end" stroke="#2a2a2a" stroke-width="0.15" textLength="10.22">388</text>
<text x="256.16" y="344.45" font-size="6.08" fill="#2a2a2a" text-anchor="end" stroke="#2a2a2a" stroke-width="0.15" textLength="10.22">-0.9</text>
<text x="291.66" y="344.45" font-size="6.08" fill="#2a2a2a" text-anchor="end" stroke="#2a2a2a" stroke-width="0.15" textLength="11.68">1.37</text>
<text x="310.16" y="344.45" font-size="6.08" fill="#2a2a2a" text-anchor="end" stroke="#2a2a2a" stroke-width="0.15" textLength="6.81">17</text>
<text x="334.66" y="344.45" font-size="6.08" fill="#2a2a2a" text-anchor="end" stroke="#2a2a2a" stroke-width="0.15" textLength="17.03">18.0%</text>
<text x="392.66" y="344.45" font-size="6.08" fill="#2a2a2a" text-anchor="end" stroke="#2a2a2a" stroke-width="0.15" textLength="42.34">0.80 [0.12, 1.48]</text>
<text x="30.35" y="352.30" font-size="6.08" fill="#2a2a2a" stroke="#2a2a2a" stroke-width="0.15" textLength="60.35">Firmansyah et al. 2011</text>
<text x="159.15" y="352.30" font-size="6.08" fill="#2a2a2a" text-anchor="end" stroke="#2a2a2a" stroke-width="0.15" textLength="13.63">-0.02</text>
<text x="194.65" y="352.30" font-size="6.08" fill="#2a2a2a" text-anchor="end" stroke="#2a2a2a" stroke-width="0.15" textLength="8.27">1.9</text>
<text x="213.65" y="352.30" font-size="6.08" fill="#2a2a2a" text-anchor="end" stroke="#2a2a2a" stroke-width="0.15" textLength="10.22">199</text>
<text x="256.15" y="352.30" font-size="6.08" fill="#2a2a2a" text-anchor="end" stroke="#2a2a2a" stroke-width="0.15" textLength="13.63">-0.09</text>
<text x="291.65" y="352.30" font-size="6.08" fill="#2a2a2a" text-anchor="end" stroke="#2a2a2a" stroke-width="0.15" textLength="11.68">1.37</text>
<text x="310.15" y="352.30" font-size="6.08" fill="#2a2a2a" text-anchor="end" stroke="#2a2a2a" stroke-width="0.15" textLength="10.22">194</text>
<text x="334.65" y="352.30" font-size="6.08" fill="#2a2a2a" text-anchor="end" stroke="#2a2a2a" stroke-width="0.15" textLength="17.03">34.4%</text>
<text x="392.65" y="352.30" font-size="6.08" fill="#2a2a2a" text-anchor="end" stroke="#2a2a2a" stroke-width="0.15" textLength="44.29">0.07 [-0.26, 0.40]</text>
<text x="30.34" y="360.15" font-size="6.08" fill="#2a2a2a" stroke="#2a2a2a" stroke-width="0.15" textLength="40.88">Wall et al. 2019</text>
<text x="159.14" y="360.15" font-size="6.08" fill="#2a2a2a" text-anchor="end" stroke="#2a2a2a" stroke-width="0.15" textLength="10.22">-0.9</text>
<text x="194.64" y="360.15" font-size="6.08" fill="#2a2a2a" text-anchor="end" stroke="#2a2a2a" stroke-width="0.15" textLength="11.68">1.18</text>
<text x="213.64" y="360.15" font-size="6.08" fill="#2a2a2a" text-anchor="end" stroke="#2a2a2a" stroke-width="0.15" textLength="6.81">70</text>
<text x="256.14" y="360.15" font-size="6.08" fill="#2a2a2a" text-anchor="end" stroke="#2a2a2a" stroke-width="0.15" textLength="10.22">-0.9</text>
<text x="291.64" y="360.15" font-size="6.08" fill="#2a2a2a" text-anchor="end" stroke="#2a2a2a" stroke-width="0.15" textLength="11.68">1.33</text>
<text x="310.14" y="360.15" font-size="6.08" fill="#2a2a2a" text-anchor="end" stroke="#2a2a2a" stroke-width="0.15" textLength="6.81">73</text>
<text x="334.64" y="360.15" font-size="6.08" fill="#2a2a2a" text-anchor="end" stroke="#2a2a2a" stroke-width="0.15" textLength="17.03">29.6%</text>
<text x="392.64" y="360.15" font-size="6.08" fill="#2a2a2a" text-anchor="end" stroke="#2a2a2a" stroke-width="0.15" textLength="44.29">0.00 [-0.41, 0.41]</text>
<text x="30.32" y="375.40" font-size="5.79" fill="#18294a" font-weight="bold" stroke="#18294a" stroke-width="0.12" textLength="36.99">Total (95% CI)</text>
<text x="213.62" y="375.40" font-size="5.79" fill="#18294a" text-anchor="end" font-weight="bold" stroke="#18294a" stroke-width="0.12" textLength="13.63">1036</text>
<text x="310.12" y="375.40" font-size="5.79" fill="#18294a" text-anchor="end" font-weight="bold" stroke="#18294a" stroke-width="0.12" textLength="10.22">301</text>
<text x="334.62" y="375.40" font-size="5.79" fill="#18294a" text-anchor="end" font-weight="bold" stroke="#18294a" stroke-width="0.12" textLength="18.98">100.0%</text>
<text x="392.62" y="375.40" font-size="5.79" fill="#18294a" text-anchor="end" font-weight="bold" stroke="#18294a" stroke-width="0.12" textLength="45.26">0.29 [-0.07, 0.66]</text>
<text x="30.32" y="383.90" font-size="6.08" fill="#2a2a2a" stroke="#2a2a2a" stroke-width="0.15" textLength="172.29">Heterogeneity: Tau² = 0.07; Chi² = 6.60, df = 3 (P = 0.09); I² = 55%</text>
<text x="30.31" y="391.70" font-size="6.08" fill="#2a2a2a" stroke="#2a2a2a" stroke-width="0.15" textLength="106.10">Test for overall effect: Z = 1.58 (P = 0.11)</text>
<text x="398.01" y="388.10" font-size="6.08" fill="#4a5264" stroke="#4a5264" stroke-width="0.15" textLength="5.35">-2</text>
<text x="433.71" y="388.10" font-size="6.08" fill="#4a5264" text-anchor="middle" stroke="#4a5264" stroke-width="0.15" textLength="5.35">-1</text>
<text x="469.21" y="388.10" font-size="6.08" fill="#4a5264" text-anchor="middle" stroke="#4a5264" stroke-width="0.15">0</text>
<text x="504.71" y="388.10" font-size="6.08" fill="#4a5264" text-anchor="middle" stroke="#4a5264" stroke-width="0.15">1</text>
<text x="540.41" y="388.10" font-size="6.08" fill="#4a5264" text-anchor="end" stroke="#4a5264" stroke-width="0.15">2</text>
<text x="466.71" y="394.80" font-size="6.08" fill="#4a5264" text-anchor="end" stroke="#4a5264" stroke-width="0.15" textLength="43.80">Favours [control]</text>
<text x="471.71" y="394.80" font-size="6.08" fill="#4a5264" stroke="#4a5264" stroke-width="0.15" textLength="56.94">Favours [intervention]</text>
</g>
</svg>
</body></html>
